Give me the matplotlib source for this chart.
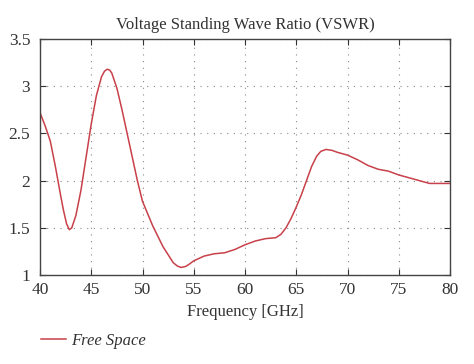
import matplotlib
matplotlib.use("Agg")
from matplotlib import pyplot

freq = [40, 40.5, 41, 41.5, 42, 42.3, 42.6, 42.86, 43.1, 43.5, 44, 44.5, 45, 45.5, 46,
        46.3, 46.57, 46.8, 47, 47.5, 48, 48.5, 49, 49.5, 50, 51, 52, 53, 53.4, 53.76, 54.2,
        54.5, 55, 56, 57, 58, 59, 60, 61, 62, 63, 63.5, 64, 64.5, 65, 65.5, 66, 66.5, 67,
        67.4, 67.9, 68.5, 69, 70, 71, 72, 73, 74, 75, 76, 77, 78, 79, 80]
vswr = [2.72, 2.58, 2.42, 2.15, 1.85, 1.68, 1.54, 1.48, 1.5, 1.63, 1.9, 2.25, 2.6, 2.9, 3.1,
        3.16, 3.18, 3.17, 3.14, 2.98, 2.75, 2.5, 2.25, 2.0, 1.78, 1.52, 1.3, 1.13, 1.095, 1.08, 1.09,
        1.11, 1.15, 1.2, 1.225, 1.235, 1.27, 1.32, 1.36, 1.385, 1.395, 1.43, 1.5, 1.6, 1.72,
        1.85, 2.0, 2.15, 2.26, 2.31, 2.33, 2.32, 2.3, 2.27, 2.22, 2.16, 2.12, 2.1, 2.06, 2.03,
        2.0, 1.97, 1.97, 1.97]

x_ticks = [40, 45, 50, 55, 60, 65, 70, 75, 80]
y_ticks = [1, 1.5, 2, 2.5, 3, 3.5]
y_labels = ['1', '1.5', '2', '2.5', '3', '3.5']

pyplot.rcParams['font.family'] = ['Liberation Serif', 'DejaVu Serif']

fig = pyplot.figure(figsize=(4.74, 3.64), dpi=100)
ax = fig.add_axes([40 / 474, 1 - 275 / 364, 410 / 474, 236 / 364])

line, = ax.plot(freq, vswr, color='#c8404a', linewidth=1.1, label='Free Space')

ax.set_xlim(40, 80)
ax.set_ylim(1, 3.5)
ax.set_xticks(x_ticks)
ax.set_yticks(y_ticks)
ax.set_yticklabels(y_labels)
ax.tick_params(direction='in', top=True, right=True, labelsize=12.5,
               colors='#333333', length=4, width=0.8)
ax.tick_params(axis='y', pad=7)
ax.tick_params(axis='x', pad=5)
ax.grid(True, linestyle=(0, (1, 5)), color='#888888', linewidth=0.8)
for s in ax.spines.values():
    s.set_color('#444444')
    s.set_linewidth(1.0)

ax.set_title('Voltage Standing Wave Ratio (VSWR)', fontsize=12, color='#333333', pad=7)
ax.set_xlabel('Frequency [GHz]', fontsize=12, color='#333333', labelpad=4)

leg = fig.legend(handles=[line], loc='lower left', bbox_to_anchor=(0.055, 0.0),
                 frameon=False, prop={'style': 'italic', 'size': 12},
                 handlelength=1.5, handletextpad=0.3)
for t in leg.get_texts():
    t.set_color('#333333')

pyplot.savefig('out.png', dpi=100)
